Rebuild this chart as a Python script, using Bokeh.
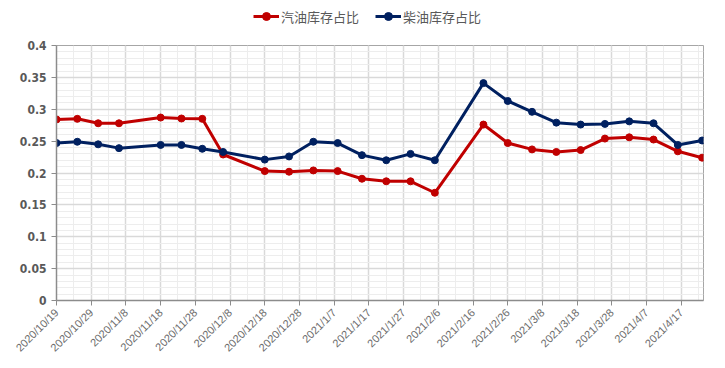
import pandas as pd
from bokeh.plotting import figure
from bokeh.layouts import column
from bokeh.models import FixedTicker, Range1d, Legend, LegendItem
from bokeh.embed import file_html
from bokeh.resources import INLINE

# ---- data ----
dates = ["2020-10-19", "2020-10-25", "2020-10-31", "2020-11-06", "2020-11-18", "2020-11-24",
         "2020-11-30", "2020-12-06", "2020-12-18", "2020-12-25", "2021-01-01", "2021-01-08",
         "2021-01-15", "2021-01-22", "2021-01-29", "2021-02-05", "2021-02-19", "2021-02-26",
         "2021-03-05", "2021-03-12", "2021-03-19", "2021-03-26", "2021-04-02", "2021-04-09",
         "2021-04-16", "2021-04-23"]
gasoline = [0.284, 0.285, 0.278, 0.278, 0.287, 0.2855, 0.285, 0.229, 0.203, 0.202, 0.204, 0.203,
            0.191, 0.187, 0.187, 0.169, 0.276, 0.247, 0.237, 0.233, 0.236, 0.254, 0.256, 0.2525,
            0.234, 0.224]
diesel = [0.247, 0.249, 0.245, 0.239, 0.244, 0.244, 0.238, 0.233, 0.221, 0.226, 0.249, 0.247,
          0.228, 0.220, 0.230, 0.220, 0.341, 0.313, 0.296, 0.279, 0.276, 0.277, 0.281, 0.278,
          0.244, 0.251]
series_names = ["汽油库存占比", "柴油库存占比"]
x_tick_labels = ["2020/10/19", "2020/10/29", "2020/11/8", "2020/11/18", "2020/11/28", "2020/12/8",
                 "2020/12/18", "2020/12/28", "2021/1/7", "2021/1/17", "2021/1/27", "2021/2/6",
                 "2021/2/16", "2021/2/26", "2021/3/8", "2021/3/18", "2021/3/28", "2021/4/7",
                 "2021/4/17"]
y_ticks = [0, 0.05, 0.1, 0.15, 0.2, 0.25, 0.3, 0.35, 0.4]
y_tick_labels = ["0", "0.05", "0.1", "0.15", "0.2", "0.25", "0.3", "0.35", "0.4"]

RED = "#c00000"
BLUE = "#002060"
GRAY = "#595959"

def ms(s):
    return float(pd.Timestamp(s).value // 10**6)

x = [pd.Timestamp(d) for d in dates]
x_ticks = [ms(pd.Timestamp(l.replace("/", "-"))) for l in x_tick_labels]
day = 86400000.0
x_minor = [t + 5 * day for t in x_ticks] + x_ticks

# ---- legend strip (its series lie outside its own view; only the legend shows) ----
top = figure(width=717, height=34, output_backend="svg", toolbar_location=None,
             x_axis_type="datetime", x_axis_location=None, y_axis_location=None,
             x_range=Range1d(0, 1), y_range=Range1d(0, 1),
             min_border_left=0, min_border_right=0, min_border_top=0, min_border_bottom=0)
top.outline_line_color = None
top.grid.visible = False
lr1 = top.line(x, gasoline, color=RED, line_width=3)
lc1 = top.scatter(x, gasoline, color=RED, size=7)
lr2 = top.line(x, diesel, color=BLUE, line_width=3)
lc2 = top.scatter(x, diesel, color=BLUE, size=7)
legend = Legend(items=[LegendItem(label=series_names[0], renderers=[lr1, lc1]),
                       LegendItem(label=series_names[1], renderers=[lr2, lc2])],
                orientation="horizontal", location=(197, 8),
                background_fill_alpha=0, border_line_color=None,
                label_text_font="Noto Sans CJK SC", label_text_font_size="13px",
                label_text_color=GRAY, glyph_width=26, glyph_height=20,
                label_standoff=2, spacing=16, padding=0, margin=0)
top.add_layout(legend, "center")

# ---- main chart ----
p = figure(width=717, height=326, x_axis_type="datetime", output_backend="svg",
           toolbar_location=None,
           x_range=Range1d(ms("2020-10-19"), ms("2021-04-23") + 0.4 * day),
           y_range=Range1d(0, 0.4),
           min_border_left=56, min_border_right=14, min_border_top=11, min_border_bottom=60)

p.outline_line_color = "#a6a6a6"
p.outline_line_width = 1

xt = FixedTicker(ticks=x_ticks, minor_ticks=x_minor)
p.xaxis.ticker = xt
p.xaxis.major_label_overrides = {t: l for t, l in zip(x_ticks, x_tick_labels)}
p.xaxis.major_label_orientation = 0.785398
p.xaxis.major_label_text_font = "Liberation Sans"
p.xaxis.major_label_text_font_size = "11px"
p.xaxis.major_label_text_color = "#6b6b6b"

y_minor = [i * 0.01 for i in range(41)]
yt = FixedTicker(ticks=y_ticks, minor_ticks=y_minor)
p.yaxis.ticker = yt
p.yaxis.major_label_overrides = {t: l for t, l in zip(y_ticks, y_tick_labels)}
p.yaxis.major_label_text_font = "DejaVu Sans Condensed"
p.yaxis.major_label_text_font_style = "bold"
p.yaxis.major_label_text_font_size = "12px"
p.yaxis.major_label_text_color = GRAY

for ax in (p.xaxis, p.yaxis):
    ax.axis_line_color = "#8c8c8c"
    ax.axis_line_width = 1.5
    ax.major_tick_line_color = "#8c8c8c"
    ax.major_tick_in = 0
    ax.major_tick_out = 5
    ax.minor_tick_line_color = None

p.xgrid.grid_line_color = "#d9d9d9"
p.ygrid.grid_line_color = "#d9d9d9"
p.xgrid.grid_line_width = 1.5
p.ygrid.grid_line_width = 1.5
p.xgrid.minor_grid_line_color = "#ededed"
p.ygrid.minor_grid_line_color = "#ededed"

p.line(x, gasoline, color=RED, line_width=3)
p.scatter(x, gasoline, color=RED, size=7)
p.line(x, diesel, color=BLUE, line_width=3)
p.scatter(x, diesel, color=BLUE, size=7)

layout = column(top, p, spacing=0)
open("out.html", "w").write(file_html(layout, INLINE))
